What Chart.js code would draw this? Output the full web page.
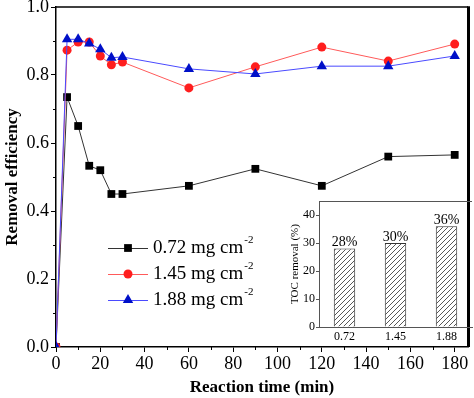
<!DOCTYPE html>
<html>
<head>
<meta charset="utf-8">
<script src="https://cdn.jsdelivr.net/npm/chart.js@4.4.1/dist/chart.umd.min.js"></script>
<style>
  html, body { margin: 0; padding: 0; background: #fff; }
  #wrap { position: relative; width: 474px; height: 398px; }
  #main { position: absolute; left: 0; top: 0; }
  #inset { position: absolute; left: 285px; top: 190px; }
</style>
</head>
<body>
<div id="wrap">
  <canvas id="main" width="474" height="398"></canvas>
  <canvas id="inset" width="189" height="156"></canvas>
</div>
<script>
// data
const times = [0, 5, 10, 15, 20, 25, 30, 60, 90, 120, 150, 180];
const eff072 = [0, 0.735, 0.65, 0.533, 0.52, 0.45, 0.45, 0.474, 0.524, 0.474, 0.56, 0.565];
const eff145 = [0, 0.873, 0.897, 0.897, 0.856, 0.83, 0.838, 0.762, 0.824, 0.882, 0.841, 0.891];
const eff188 = [0, 0.905, 0.905, 0.893, 0.876, 0.851, 0.853, 0.818, 0.803, 0.826, 0.826, 0.856];
const seriesNames = ["0.72 mg cm", "1.45 mg cm", "1.88 mg cm"];

const loadings = ["0.72", "1.45", "1.88"];
const tocRemoval = [28, 30, 36];

const serif = "'Liberation Serif', 'Times New Roman', serif";
Chart.defaults.font.family = serif;
Chart.defaults.color = "#000";

const toXY = (ys) => times.map((t, i) => ({ x: t, y: ys[i] }));

// top + right frame lines and minor ticks
const frameMain = {
    id: "frameMain",
    afterDraw(chart) {
        const { ctx, chartArea: a, scales } = chart;
        ctx.save();
        ctx.strokeStyle = "#000";
        ctx.lineWidth = 1.5;
        ctx.beginPath();
        ctx.moveTo(a.left, a.top);
        ctx.lineTo(a.right, a.top);
        ctx.stroke();
        ctx.lineWidth = 3;
        ctx.beginPath();
        ctx.moveTo(a.right + 0.5, a.top - 0.75);
        ctx.lineTo(a.right + 0.5, a.bottom);
        ctx.stroke();
        // minor ticks
        ctx.lineWidth = 1;
        ctx.beginPath();
        for (let v = 10; v < 186; v += 20) {
            const px = Math.round(scales.x.getPixelForValue(v)) + 0.5;
            ctx.moveTo(px, a.bottom);
            ctx.lineTo(px, a.bottom + 3);
        }
        for (let v = 0.1; v < 1; v += 0.2) {
            const py = Math.round(scales.y.getPixelForValue(v)) + 0.5;
            ctx.moveTo(a.left, py);
            ctx.lineTo(a.left - 3, py);
        }
        ctx.stroke();
        ctx.restore();
    }
};

// legend: line + marker + label with superscript
const legendMain = {
    id: "legendMain",
    afterDraw(chart) {
        const { ctx } = chart;
        const rows = [248, 274, 300];
        ctx.save();
        chart.data.datasets.forEach((ds, i) => {
            const y = rows[i];
            ctx.strokeStyle = ds.borderColor;
            ctx.lineWidth = 1;
            ctx.beginPath();
            ctx.moveTo(108, y + 0.5);
            ctx.lineTo(148, y + 0.5);
            ctx.stroke();
            ctx.fillStyle = ds.pointBackgroundColor;
            ctx.strokeStyle = ds.pointBorderColor;
            Chart.helpers.drawPoint(ctx, {
                pointStyle: ds.pointStyle,
                radius: ds.pointRadius,
                borderWidth: 0,
                rotation: 0
            }, 128, y);
            ctx.fillStyle = "#000";
            ctx.textBaseline = "middle";
            ctx.textAlign = "left";
            ctx.font = "19px " + serif;
            ctx.fillText(seriesNames[i], 153, y);
            const w = ctx.measureText(seriesNames[i]).width;
            ctx.font = "11px " + serif;
            ctx.fillText("-2", 153 + w + 1, y - 8);
        });
        ctx.restore();
    }
};

new Chart(document.getElementById("main"), {
    type: "line",
    data: {
        datasets: [{
            label: seriesNames[0],
            data: toXY(eff072),
            order: 2,
            borderColor: "#333",
            borderWidth: 1,
            pointStyle: "rect",
            pointRadius: 5.5,
            pointBackgroundColor: "#000",
            pointBorderColor: "#000",
            pointBorderWidth: 0
        }, {
            label: seriesNames[1],
            data: toXY(eff145),
            order: 1,
            borderColor: "#ff5a5a",
            borderWidth: 1,
            pointStyle: "circle",
            pointRadius: 4.5,
            pointBackgroundColor: "#ff1e1e",
            pointBorderColor: "#ff1e1e",
            pointBorderWidth: 0
        }, {
            label: seriesNames[2],
            data: toXY(eff188),
            order: 0,
            borderColor: "#4a4aff",
            borderWidth: 1,
            pointStyle: "triangle",
            pointRadius: 6,
            pointBackgroundColor: "#0010c8",
            pointBorderColor: "#0010c8",
            pointBorderWidth: 0
        }]
    },
    options: {
        responsive: false,
        animation: false,
        layout: { padding: { top: 7, right: 2 } },
        plugins: { legend: { display: false }, tooltip: { enabled: false } },
        scales: {
            x: {
                type: "linear",
                min: 0,
                max: 186,
                afterFit(s) { s.height = 51; },
                ticks: { stepSize: 20, includeBounds: false, font: { size: 18 }, padding: 1, maxRotation: 0 },
                grid: { drawOnChartArea: false, tickLength: 5, color: "#000", lineWidth: 1 },
                border: { color: "#000", width: 1.5 },
                title: { display: true, text: "Reaction time (min)", font: { size: 17, weight: "bold" }, padding: { top: 0, bottom: 0 } }
            },
            y: {
                min: 0,
                max: 1,
                afterFit(s) { s.width = 56; s.paddingTop = 0; s.paddingBottom = 0; },
                ticks: { stepSize: 0.2, includeBounds: false, font: { size: 18 }, padding: 2, callback: (v) => v.toFixed(1) },
                grid: { drawOnChartArea: false, tickLength: 5, color: "#000", lineWidth: 1 },
                border: { color: "#000", width: 1.5 },
                title: { display: true, text: "Removal efficiency", font: { size: 17, weight: "bold" }, padding: { top: 2, bottom: 0 } }
            }
        }
    },
    plugins: [frameMain, legendMain]
});

// inset: TOC removal bars
const insetCanvas = document.getElementById("inset");
function makeHatch(ctx) {
    const c = document.createElement("canvas");
    c.width = 5;
    c.height = 5;
    const g = c.getContext("2d");
    g.fillStyle = "#fff";
    g.fillRect(0, 0, 5, 5);
    g.strokeStyle = "#444";
    g.lineWidth = 0.9;
    g.beginPath();
    g.moveTo(0, 5); g.lineTo(5, 0);
    g.moveTo(-1, 1); g.lineTo(1, -1);
    g.moveTo(4, 6); g.lineTo(6, 4);
    g.stroke();
    return ctx.createPattern(c, "repeat");
}

const frameInset = {
    id: "frameInset",
    afterDraw(chart) {
        const { ctx, chartArea: a } = chart;
        ctx.save();
        ctx.strokeStyle = "#555";
        ctx.lineWidth = 1;
        ctx.beginPath();
        ctx.moveTo(a.left, a.top + 0.5);
        ctx.lineTo(a.right, a.top + 0.5);
        ctx.stroke();
        ctx.restore();
    }
};

const barLabels = {
    id: "barLabels",
    afterDatasetsDraw(chart) {
        const { ctx } = chart;
        const meta = chart.getDatasetMeta(0);
        ctx.save();
        ctx.fillStyle = "#000";
        ctx.font = "14px " + serif;
        ctx.textAlign = "center";
        ctx.textBaseline = "bottom";
        meta.data.forEach((bar, i) => {
            ctx.fillText(tocRemoval[i] + "%", bar.x, bar.y + 1);
        });
        ctx.restore();
    }
};

new Chart(insetCanvas, {
    type: "bar",
    data: {
        labels: loadings,
        datasets: [{
            data: tocRemoval,
            backgroundColor: makeHatch(insetCanvas.getContext("2d")),
            borderColor: "#333",
            borderWidth: 1,
            categoryPercentage: 0.42,
            barPercentage: 1
        }]
    },
    options: {
        responsive: false,
        animation: false,
        layout: { padding: { top: 11, right: 2 } },
        plugins: { legend: { display: false }, tooltip: { enabled: false } },
        scales: {
            x: {
                afterFit(s) { s.height = 19; },
                ticks: { font: { size: 12 }, padding: 3 },
                grid: { display: false, drawTicks: false },
                border: { color: "#555", width: 1 }
            },
            y: {
                min: 0,
                max: 45,
                afterFit(s) { s.width = 34; },
                ticks: { stepSize: 10, includeBounds: false, font: { size: 12 }, padding: 1 },
                grid: { drawOnChartArea: false, tickLength: 3, color: "#555" },
                border: { color: "#555", width: 1 },
                title: { display: true, text: "TOC removal (%)", font: { size: 11 }, padding: { top: 4, bottom: 0 } }
            }
        }
    },
    plugins: [frameInset, barLabels]
});
</script>
</body>
</html>
